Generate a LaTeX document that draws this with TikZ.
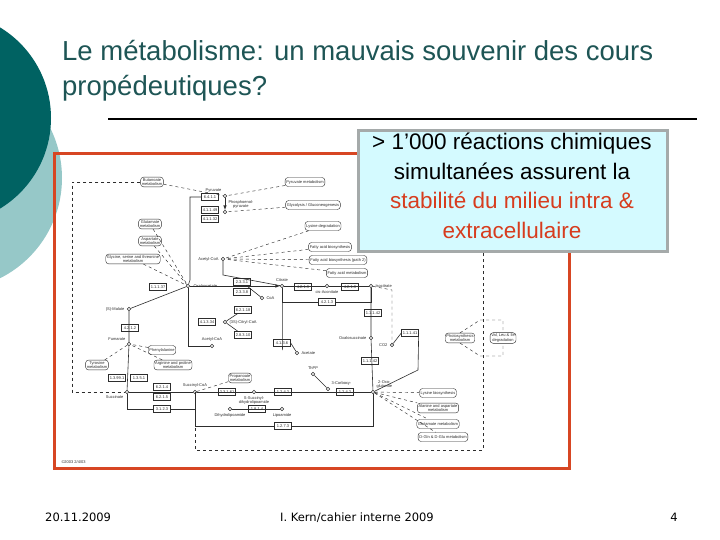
\documentclass[tikz,border=0pt]{standalone}
\usepackage{fontspec}
\setmainfont{Liberation Sans}
\newfontfamily\footfont{DejaVu Sans}
\definecolor{darkteal}{RGB}{0,98,98}
\definecolor{lightteal}{RGB}{150,200,200}
\definecolor{titlecol}{RGB}{30,85,85}
\definecolor{framecol}{RGB}{215,70,35}
\definecolor{calloutfill}{RGB}{212,250,255}
\definecolor{calloutdraw}{RGB}{165,170,170}
\definecolor{redtext}{RGB}{215,60,30}
\definecolor{ink}{RGB}{45,45,45}
\tikzset{
 tiny/.style={font=\fontsize{4}{4.5}\selectfont, text=ink},
 mapbox/.style={tiny, draw=ink, rounded corners=3pt, inner sep=1.2pt, minimum height=9pt, fill=white, align=center},
 ecbox/.style={tiny, draw=ink, inner sep=0.8pt, minimum width=17pt, minimum height=7pt, fill=white},
 cpd/.style={draw=ink, circle, inner sep=0pt, minimum size=3.5pt, fill=white},
 lbl/.style={tiny, align=center},
 rel/.style={draw=ink, dashed, line width=0.45pt},
 rxn/.style={draw=ink, line width=0.6pt},
 foot/.style={font=\footfont\fontsize{11.5}{13}\selectfont, inner sep=0},
}
\begin{document}
\begin{tikzpicture}[x=1pt,y=-1pt]
\useasboundingbox (0,0) rectangle (720,540);
\fill[white] (0,0) rectangle (720,540);
\begin{scope}
\clip (0,0) rectangle (720,540);
\fill[lightteal] (-50,178) circle (112);
\fill[darkteal] (-55,118) circle (106);
\end{scope}
% title
\node[anchor=base west, text=titlecol, font=\fontsize{27.5}{30}\selectfont, inner sep=0] (t1) at (62,61) {Le métabolisme: un mauvais souvenir des cours};
\node[anchor=base west, text=titlecol, font=\fontsize{27.5}{30}\selectfont, inner sep=0] (t2) at (62,96) {propédeutiques?};
\draw[line width=2pt] (108,119) -- (697,119);
% frame
\draw[framecol, line width=3pt] (54,154) rectangle (569,468);
\node[tiny, anchor=west] (copy) at (58,462) {©2003 2/4/03};
% compounds
\node[cpd] (pyr) at (225,196) {}; \node[lbl,above left=0pt] at (pyr) {Pyruvate};
\node[cpd] (pep) at (225,212) {}; \node[lbl,above right=0pt] at (pep) {Phosphoenol-\\pyruvate};
\node[cpd] (acoa) at (223,259) {}; \node[lbl,left=1pt] at (acoa) {Acetyl-CoA};
\node[cpd] (oaa) at (188,286) {}; \node[lbl,right=2pt] at (oaa) {Oxaloacetate};
\node[cpd] (cit) at (282,286) {}; \node[lbl,above=1pt] at (cit) {Citrate};
\node[cpd] (cis) at (327,286) {}; \node[lbl,below=1pt] at (cis) {cis-Aconitate};
\node[cpd] (iso) at (371,286) {}; \node[lbl,right=1pt] at (iso) {Isocitrate};
\node[cpd] (coa) at (262,298) {}; \node[lbl,right=1pt] at (coa) {CoA};
\node[cpd] (smal) at (129,309) {}; \node[lbl,left=1pt] at (smal) {(S)-Malate};
\node[cpd] (hmc) at (225,322) {}; \node[lbl,right=1pt] at (hmc) {(3S)-Citryl-CoA};
\node[cpd] (acoa2) at (212,346) {}; \node[lbl,above=1pt] at (acoa2) {Acetyl-CoA};
\node[cpd] (acet) at (297,353) {}; \node[lbl,right=1pt] at (acet) {Acetate};
\node[cpd] (oxs) at (371,338) {}; \node[lbl,left=1pt] at (oxs) {Oxalosuccinate};
\node[cpd] (co2) at (392,345) {}; \node[lbl,left=1pt] at (co2) {CO2};
\node[cpd] (fum) at (129,344) {}; \node[lbl,above left=0pt] at (fum) {Fumarate};
\node[cpd] (thpp) at (313,374) {}; \node[lbl,above=1pt] at (thpp) {ThPP};
\node[cpd] (hthpp) at (328,389) {}; \node[lbl,above right=0pt] at (hthpp) {3-Carboxy-};
\node[cpd] (succ) at (127,392) {}; \node[lbl,below left=0pt] at (succ) {Succinate};
\node[cpd] (scoa) at (195,392) {}; \node[lbl,above=1pt] at (scoa) {Succinyl-CoA};
\node[cpd] (sdl) at (254,392) {}; \node[lbl,below=1pt] at (sdl) {S-Succinyl-\\dihydrolipoamide};
\node[cpd] (dhl) at (230,409) {}; \node[lbl,below=1pt] at (dhl) {Dihydrolipoamide};
\node[cpd] (lip) at (282,409) {}; \node[lbl,below=1pt] at (lip) {Lipoamide};
\node[cpd] (og) at (373,392) {}; \node[lbl,above right=0pt] at (og) {2-Oxo-\\glutarate};
% maps
\node[mapbox] (buta) at (152,182) {Butanoate\\metabolism};
\node[mapbox] (pyrm) at (305,182) {Pyruvate metabolism};
\node[mapbox] (glyc) at (313,205) {Glycolysis / Gluconeogenesis};
\node[mapbox] (lysd) at (323,226) {Lysine degradation};
\node[mapbox] (fab1) at (330,247) {Fatty acid biosynthesis};
\node[mapbox] (fab2) at (338,260) {Fatty acid biosynthesis (path 2)};
\node[mapbox] (fam) at (347,273) {Fatty acid metabolism};
\node[mapbox] (glum) at (150,224) {Glutamate\\metabolism};
\node[mapbox] (aspm) at (150,241) {Aspartate\\metabolism};
\node[mapbox] (gly) at (133,259) {Glycine, serine and threonine\\metabolism};
\node[mapbox] (tyr) at (97,365) {Tyrosine\\metabolism};
\node[mapbox] (phe) at (162,350) {Phenylalanine};
\node[mapbox] (arg) at (173,365) {Arginine and proline\\metabolism};
\node[mapbox] (prop) at (240,378) {Propanoate\\metabolism};
\node[mapbox] (lysb) at (438,393) {Lysine biosynthesis};
\node[mapbox] (ala) at (438,408) {Alanine and aspartate\\metabolism};
\node[mapbox] (glu2) at (438,424) {Glutamate metabolism};
\node[mapbox] (dgl) at (443,437) {D-Gln \& D-Glu metabolism};
\node[mapbox] (photo) at (460,338) {Photosynthesis\\metabolism};
\node[mapbox] (vli) at (503,338) {Val, Leu \& Ile\\degradation};
% EC boxes
\node[ecbox] (e1) at (210,197) {6.4.1.1};
\node[ecbox] (e2) at (210,210) {4.1.1.49};
\node[ecbox] (e3) at (210,219) {4.1.1.32};
\node[ecbox] (e4) at (158,287) {1.1.1.37};
\node[ecbox] (e5) at (242,282) {2.3.3.1};
\node[ecbox] (e6) at (242,292) {2.3.3.8};
\node[ecbox] (e7) at (303,287) {4.2.1.3};
\node[ecbox] (e8) at (350,287) {4.2.1.3};
\node[ecbox] (e9) at (327,302) {4.2.1.3};
\node[ecbox] (e10) at (243,310) {6.2.1.18};
\node[ecbox] (e11) at (207,322) {4.1.3.34};
\node[ecbox] (e12) at (243,335) {2.8.3.10};
\node[ecbox] (e13) at (282,343) {4.1.3.6};
\node[ecbox] (e14) at (373,313) {1.1.1.42};
\node[ecbox] (e15) at (410,333) {1.1.1.41};
\node[ecbox] (e16) at (370,361) {1.1.1.42};
\node[ecbox] (e17) at (130,328) {4.2.1.2};
\node[ecbox] (e18) at (117,378) {1.3.99.1};
\node[ecbox] (e19) at (139,378) {1.3.5.1};
\node[ecbox] (e20) at (162,387) {6.2.1.4};
\node[ecbox] (e21) at (162,397) {6.2.1.5};
\node[ecbox] (e22) at (162,409) {3.1.2.3};
\node[ecbox] (e23) at (227,392) {2.3.1.61};
\node[ecbox] (e24) at (283,392) {1.2.4.2};
\node[ecbox] (e25) at (345,392) {1.2.4.2};
\node[ecbox] (e26) at (257,409) {1.8.1.4};
\node[ecbox] (e27) at (283,426) {1.2.7.3};
% reactions (solid)
\draw[rxn,->,>=latex] (pyr) -- (pep);
\draw[rxn] (e1.west) -| (190,280) -- (oaa);
\draw[rxn] (acoa) -- (223,275) -- (cit);
\draw[rxn,->,>=latex] (oaa) -- (cit);
\draw[rxn] (cit) -- (cis) -- (iso);
\draw[rxn] (cit) |- (e9.west); \draw[rxn] (e9.east) -| (iso);
\draw[rxn] (iso) -- (oxs) -- (og);
\draw[rxn] (cit) -- (282,350) -- (e13);
\draw[rxn] (acet) -- (e13.east);
\draw[rxn] (e5) -- (coa);
\draw[rxn] (e10) -- (hmc) -- (e12);
\draw[rxn] (oaa) -- (smal) -- (fum) -- (succ);
\draw[rxn] (succ) -- (scoa) -- (sdl) -- (og);
\draw[rxn] (dhl) -- (lip);
\draw[rxn] (scoa) -- (195,426) -- (e27.west); \draw[rxn] (e27.east) -- (373,426) -- (og);
\draw[rxn] (succ) -- (127,409) -- (e22.west); \draw[rxn] (e22.east) -- (195,409);
\draw[rxn] (co2) -- (e15.west); \draw[rxn] (e15.east) -- (418,370) -- (og);
\draw[rxn] (thpp) -- (hthpp);
\draw[rxn] (oaa) -- (188,346) -- (acoa2);
% relations (dashed)
\draw[rel] (buta) -- (pyr);
\draw[rel] (pyrm) -- (pyr);
\draw[rel] (glyc) -- (pep);
\draw[rel] (lysd) -- (acoa);
\draw[rel] (fab1) -- (acoa);
\draw[rel] (fab2) -- (acoa);
\draw[rel] (fam) -- (acoa);
\draw[rel] (glum) -- (oaa);
\draw[rel] (aspm) -- (oaa);
\draw[rel] (gly) -- (oaa);
\draw[rel] (buta.west) -| (72,392) -- (succ);
\draw[rel] (tyr) -- (fum);
\draw[rel] (phe) -- (fum);
\draw[rel] (arg) -- (fum);
\draw[rel] (prop) -- (scoa);
\draw[rel] (og) -- (lysb);
\draw[rel] (og) -- (ala);
\draw[rel] (og) -- (glu2);
\draw[rel] (og) -- (dgl);
\draw[rel] (iso) -- (392,290) -- (392,345);
\draw[rel] (195,392) -- (195,450) -- (483,450) -- (483,250);
\draw[rel] (photo.north) -- (480,320) -- (503,320) -- (vli.north);
\draw[rel] (photo.south) -- (480,356) -- (503,356) -- (vli.south);
% callout
\node[draw=calloutdraw, line width=3pt, fill=calloutfill, minimum width=309pt, minimum height=121pt, anchor=north west, inner sep=0] (call) at (357,129) {};
\node[align=center, font=\fontsize{22.5}{29.5}\selectfont, anchor=north, inner sep=0] (calltxt) at (512,133) {> 1'000 réactions chimiques\\simultanées assurent la\\\textcolor{redtext}{stabilité du milieu intra \&}\\\textcolor{redtext}{extracellulaire}};
% footer
\node[foot, anchor=base west] (f1) at (45,521) {20.11.2009};
\node[foot, anchor=base] (f2) at (357,521) {I. Kern/cahier interne 2009};
\node[foot, anchor=base east] (f3) at (678,521) {4};
\end{tikzpicture}
\end{document}
